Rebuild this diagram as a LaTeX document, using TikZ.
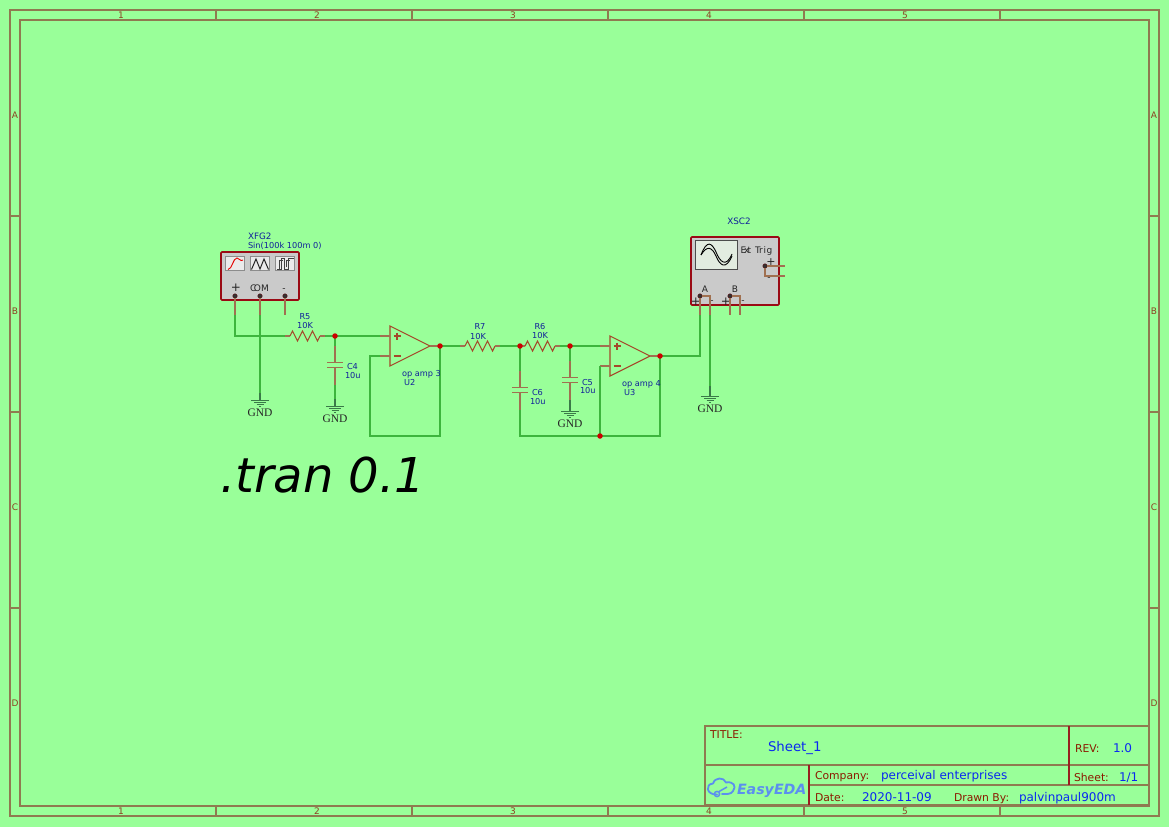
\documentclass[tikz,border=0pt]{standalone}
\usepackage{fontspec}
\setmainfont{DejaVu Sans}
\newfontfamily\gndfont{Liberation Serif}
\definecolor{bgc}{HTML}{99FF99}
\definecolor{framec}{HTML}{8F7A50}
\definecolor{framed}{HTML}{8B2A10}
\definecolor{wirec}{HTML}{3DB53D}
\definecolor{stubc}{HTML}{A07050}
\definecolor{partc}{HTML}{A5482A}
\definecolor{labelc}{HTML}{10209A}
\definecolor{valc}{HTML}{0A28F0}
\definecolor{tbc}{HTML}{8B1A00}
\definecolor{inst}{HTML}{CACACA}
\definecolor{instb}{HTML}{9A0A14}
\definecolor{jun}{HTML}{CC0000}
\definecolor{gndc}{HTML}{3A7A48}
\definecolor{logoc}{HTML}{5B8FEF}
\definecolor{scr}{HTML}{E2ECE0}
\tikzset{
  frameline/.style={draw=framec,line width=1.5pt},
  tbline/.style={draw=framec,line width=1.4pt},
  tbdiv/.style={draw=instb!80!framec,line width=1.1pt},
  wire/.style={draw=wirec,line width=1.5pt},
  stub/.style={draw=stubc,line width=1.5pt},
  part/.style={draw=partc,line width=1.1pt,line join=miter},
  gndstub/.style={draw=gndc,line width=1.5pt},
  txt/.style={inner sep=0pt,outer sep=0pt,anchor=base west},
  ctxt/.style={inner sep=0pt,outer sep=0pt,anchor=base},
  small/.style={font=\fontsize{8.2}{10}\selectfont,text=labelc},
  devlabel/.style={font=\fontsize{8.8}{10}\selectfont,text=labelc},
  edgelab/.style={font=\fontsize{9}{10}\selectfont,text=framed!70!framec},
  tblab/.style={font=\fontsize{10.8}{13}\selectfont,text=tbc},
  tbval/.style={font=\fontsize{12}{14}\selectfont,text=valc},
  inlab/.style={font=\fontsize{9}{10}\selectfont,text=black!85},
  gndlab/.style={font=\gndfont\fontsize{11.5}{13}\selectfont,text=black!85},
  junction/.style={circle,fill=jun,inner sep=0pt,minimum size=5.5pt},
  pindot/.style={circle,fill=black!80,draw=instb!60!black,line width=.4pt,inner sep=0pt,minimum size=4.5pt},
  btn/.style={draw=black!45,fill=black!8,line width=.8pt}
}
% resistor #1 name, #2 centre x, #3 y
\newcommand\myres[3]{%
  \coordinate (#1L) at (#2-20,#3);\coordinate (#1R) at (#2+20,#3);
  \draw[stub] (#1L)--++(5,0);
  \draw[part] (#2-15,#3)--++(2.5,-5)--++(5,10)--++(5,-10)--++(5,10)--++(5,-10)--++(5,10)--++(2.5,-5);
  \draw[stub] (#2+15,#3)--(#1R);
}
% capacitor #1 name, #2 x, #3 top stub y
\newcommand\mycap[3]{%
  \coordinate (#1T) at (#2,#3);\coordinate (#1B) at (#2,#3+39);
  \draw[stub] (#1T)--(#2,#3+16.5);
  \draw[stub] (#2,#3+21.5)--(#1B);
  \draw[stub] (#2-8,#3+16.5)--++(16,0) (#2-8,#3+21.5)--++(16,0);
}
% ground #1 name, #2 x, #3 y of first bar
\newcommand\mygnd[3]{%
  \coordinate (#1) at (#2,#3);
  \draw[gndc,line width=.8pt] (#2-9,#3)--(#2+9,#3) (#2-6,#3+2)--(#2+6,#3+2) (#2-3.5,#3+4)--(#2+3.5,#3+4) (#2-1,#3+6)--(#2+1,#3+6);
  \node[ctxt,gndlab] (#1txt) at (#2,#3+16) {GND};
}
% opamp #1 name, #2 left x, #3 centre y
\newcommand\myopamp[3]{%
  \coordinate (#1P) at (#2-10,#3-10);\coordinate (#1N) at (#2-10,#3+10);\coordinate (#1O) at (#2+50,#3);
  \draw[part] (#2,#3-20)--(#2+40,#3)--(#2,#3+20)--cycle;
  \draw[stub] (#1P)--++(10,0) (#1N)--++(10,0);
  \draw[stub] (#2+40,#3)--(#1O);
  \draw[part,line width=1.3pt] (#2+3.5,#3-10)--++(7,0) (#2+7,#3-13.5)--++(0,7) (#2+3.5,#3+10)--++(7,0);
}
\begin{document}
\begin{tikzpicture}[x=1pt,y=-1pt]
\useasboundingbox (0,0) rectangle (1169,827);
\fill[bgc] (0,0) rectangle (1169,827);
% sheet frame
\draw[frameline] (10,10) rectangle (1159,816);
\draw[frameline] (20,20) rectangle (1149,806);
\foreach \x in {216,412,608,804,1000}{
  \draw[frameline] (\x,10)--(\x,20) (\x,806)--(\x,816);}
\foreach \y in {216,412,608}{
  \draw[frameline] (10,\y)--(20,\y) (1149,\y)--(1159,\y);}
\foreach \n/\x in {1/121,2/317,3/513,4/709,5/905}{
  \node[ctxt,edgelab] (top\n) at (\x,18.5) {\n};
  \node[ctxt,edgelab] (bot\n) at (\x,814.5) {\n};}
\foreach \n/\y in {A/118,B/314,C/510,D/706}{
  \node[ctxt,edgelab] (left\n) at (15,\y) {\n};
  \node[ctxt,edgelab] (right\n) at (1154,\y) {\n};}
% title block
\draw[tbline] (705,726) rectangle (1149,805);
\draw[tbline] (705,765)--(1149,765);
\draw[tbline] (809,785)--(1149,785);
\draw[tbdiv] (1069,726)--(1069,785);
\draw[tbdiv] (809,765)--(809,805);
\node[txt,tblab] (ttitle) at (710,738) {TITLE:};
\node[txt,font=\fontsize{13.3}{15}\selectfont,text=valc] (tsheet) at (768,751) {Sheet\_1};
\node[txt,tblab] (trev) at (1075,752) {REV:};
\node[txt,font=\fontsize{12}{14}\selectfont,text=valc] (trevv) at (1113,752) {1.0};
\node[txt,tblab] (tcomp) at (815,779) {Company:};
\node[txt,tbval] (tcompv) at (881,779) {perceival enterprises};
\node[txt,tblab] (tsh) at (1074,781) {Sheet:};
\node[txt,tbval] (tshv) at (1119,781) {1/1};
\node[txt,tblab] (tdate) at (815,801) {Date:};
\node[txt,tbval] (tdatev) at (862,801) {2020-11-09};
\node[txt,tblab] (tdrawn) at (954,801) {Drawn By:};
\node[txt,tbval] (tdrawnv) at (1019,801) {palvinpaul900m};
% logo
\draw[logoc,line width=1.8pt,line cap=round,line join=round]
  (717,794.5) .. controls (706,795) and (705,784) .. (713,783.5)
  .. controls (715,777) and (724,777) .. (726,782.5)
  .. controls (733,781) and (737,786) .. (733,791)
  .. controls (731,794.5) and (727,794) .. (722,794);
\draw[logoc,line width=1.5pt] (717,794) circle (2.6);
\draw[logoc,line width=1.5pt] (719,791.5)--(727,787);
\node[txt,font=\fontsize{14.2}{17}\selectfont\bfseries\itshape,text=logoc] (logo) at (737,794) {EasyEDA};
% function generator
\draw[draw=instb,line width=1.6pt,fill=inst,rounded corners=1pt] (221,252) rectangle (299,300);
\draw[btn] (225.5,256) rectangle (244.5,270.5);
\draw[btn] (250.5,256) rectangle (269.5,270.5);
\draw[btn] (275.5,256) rectangle (294.5,270.5);
\draw[red!90!black,line width=.9pt] (228,269.5) .. controls (232,269.5) and (233,258) .. (237,258) .. controls (240,258) and (240,262) .. (243,260);
\draw[black!85,line width=1pt] (251.5,269.5)--(256,259)--(260,269)--(264,259)--(268.5,269.5);
\draw[black!75,line width=.9pt] (276.5,269)--(281,269)--(281,258.5)--(284.5,258.5)--(284.5,269)--(288,269)--(288,258.5)--(293.5,258.5);
\draw[black!75,line width=.6pt] (279,269)--(279,260)--(283,260) (286,267)--(286,260)--(290,260);
\node[ctxt,inlab,font=\fontsize{12}{14}\selectfont] (xplus) at (236,291) {+};
\node[ctxt,inlab] (xcom) at (259.5,291) {C\kern-2.5pt OM};
\node[ctxt,inlab] (xminus) at (284,291) {-};
\node[pindot] (fgp) at (235,296) {};
\node[pindot] (fgc) at (260,296) {};
\node[pindot] (fgm) at (285,296) {};
\coordinate (fgpe) at (235,315);
\coordinate (fgce) at (260,315);
\coordinate (fgme) at (285,315);
\draw[stub] (fgp)--(fgpe);
\draw[stub] (fgc)--(fgce);
\draw[stub] (fgm)--(fgme);
\node[txt,devlabel] (lxfg) at (248,239.5) {XFG2};
\node[txt,small] (lsin) at (248,248) {Sin(100k 100m 0)};
% scope
\draw[draw=instb,line width=1.6pt,fill=inst,rounded corners=1pt] (691,237) rectangle (779,305);
\draw[draw=black!70,fill=scr,line width=.8pt] (695.5,240.5) rectangle (737.5,269);
\draw[black,line width=.9pt] (701,255) .. controls (707,239) and (712,243) .. (716,252) .. controls (720,262) and (726,268) .. (732,254);
\draw[black,line width=.9pt] (701,255) .. controls (707,245) and (712,247) .. (716,256) .. controls (720,266) and (726,270) .. (732,256);
\node[txt,inlab] (lext) at (740.5,253) {E\kern-2pt x\kern-2pt t};
\node[txt,inlab] (ltrig) at (755,253) {Tr\kern.8pt i\kern.5pt g};
\node[ctxt,inlab,font=\fontsize{11}{13}\selectfont] (ltp) at (771,265) {+};
\node[ctxt,inlab] (ltm) at (769,280) {-};
\node[ctxt,inlab] (la) at (705,292) {A};
\node[ctxt,inlab] (lb) at (735,292) {B};
\node[ctxt,inlab,font=\fontsize{12}{13}\selectfont] (lap) at (696,305) {+};
\node[ctxt,inlab] (lam) at (712,303) {-};
\node[ctxt,inlab,font=\fontsize{12}{13}\selectfont] (lbp) at (726,305) {+};
\node[ctxt,inlab] (lbm) at (743,303) {-};
\node[pindot] (ap) at (700,296) {};
\node[pindot] (bp) at (730,296) {};
\node[pindot] (tp) at (765,266) {};
\coordinate (ape) at (700,315);\coordinate (ame) at (710,315);
\coordinate (bpe) at (730,315);\coordinate (bme) at (740,315);
\coordinate (tpe) at (785,266);\coordinate (tme) at (785,276);
\draw[stub] (ap)--(ape);
\draw[stub] (ap)-|(ame);
\draw[stub] (bp)--(bpe);
\draw[stub] (bp)-|(bme);
\draw[stub] (tp)--(tpe);
\draw[stub] (tp)|-(tme);
\node[ctxt,devlabel] (lxsc) at (739,224.5) {XSC2};
% components
\myres{rf}{305}{336}
\myres{rs}{480}{346}
\myres{rt}{540}{346}
\mycap{cf}{335}{346}
\mycap{cs}{570}{361}
\mycap{ct}{520}{371}
\myopamp{ua}{390}{346}
\myopamp{ub}{610}{356}
\mygnd{ga}{260}{400}
\mygnd{gb}{335}{406}
\mygnd{gc}{570}{411}
\mygnd{gd}{710}{396}
% junctions
\coordinate (ja) at (335,336);
\coordinate (jb) at (440,346);
\coordinate (jc) at (520,346);
\coordinate (jd) at (570,346);
\coordinate (je) at (660,356);
\coordinate (jf) at (600,436);
% wires
\draw[wire] (fgpe)|-(rfL);
\draw[wire] (fgce)--(260,393);
\draw[gndstub] (260,393)--(ga);
\draw[wire] (rfR)--(ja)--(uaP);
\draw[wire] (ja)--(cfT);
\draw[wire] (cfB)--(335,399);
\draw[gndstub] (335,399)--(gb);
\draw[wire] (uaN)-|(370,436)-|(jb);
\draw[wire] (jb)--(rsL);
\draw[wire] (rsR)--(jc);
\draw[wire] (jc)--(rtL);
\draw[wire] (rtR)--(jd)--(ubP);
\draw[wire] (jd)--(csT);
\draw[gndstub] (csB)--(gc);
\draw[wire] (jc)--(ctT);
\draw[wire] (ctB)|-(jf);
\draw[wire] (jf)-|(je);
\draw[wire] (ubN)-|(jf);
\draw[wire] (je)-|(ape);
\draw[wire] (ame)--(710,386);
\draw[gndstub] (710,386)--(gd);
\node[junction] (dja) at (ja) {};
\node[junction] (djb) at (jb) {};
\node[junction] (djc) at (jc) {};
\node[junction] (djd) at (jd) {};
\node[junction] (dje) at (je) {};
\node[junction] (djf) at (jf) {};
% labels
\node[ctxt,small] (lr5) at (305,319) {R5};
\node[ctxt,small] (vr5) at (305,328) {10K};
\node[ctxt,small] (lr7) at (480,329) {R7};
\node[ctxt,small] (vr7) at (478,339) {10K};
\node[ctxt,small] (lr6) at (540,329) {R6};
\node[ctxt,small] (vr6) at (540,338) {10K};
\node[txt,small] (lc4) at (347,369) {C4};
\node[txt,small] (vc4) at (345,378) {10u};
\node[txt,small] (lc5) at (582,385) {C5};
\node[txt,small] (vc5) at (580,393) {10u};
\node[txt,small] (lc6) at (532,395) {C6};
\node[txt,small] (vc6) at (530,404) {10u};
\node[txt,small] (lop3) at (402,376) {op amp 3};
\node[txt,small] (lu2) at (404,385) {U2};
\node[txt,small] (lop4) at (622,386) {op amp 4};
\node[txt,small] (lu3) at (624,395) {U3};
\node[txt,font=\itshape\fontsize{48}{50}\selectfont,text=black] (tran) at (220,492) {.tran 0.1};
\end{tikzpicture}
\end{document}
